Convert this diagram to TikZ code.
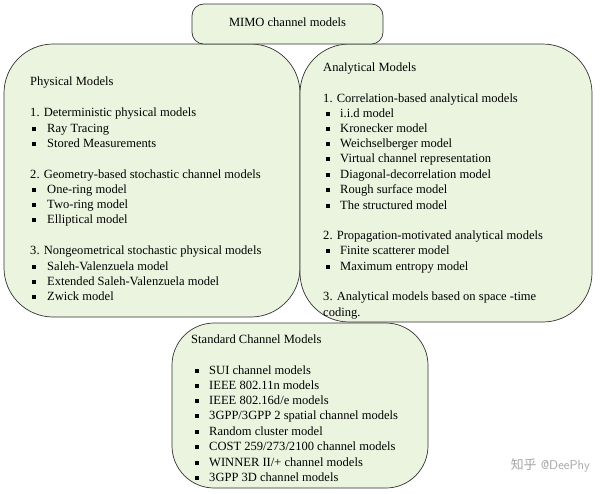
\documentclass[tikz,border=0pt]{standalone}
\usepackage{fontspec}
\setmainfont{Liberation Serif}
\newfontfamily\cjkfont{Noto Sans CJK SC}
\begin{document}
\begin{tikzpicture}[x=0.03cm,y=-0.03cm,
  txt/.style={anchor=base west,inner sep=0pt,font=\fontsize{10.7}{12}\selectfont},
]
\useasboundingbox (0,0) rectangle (600,493);
\fill[white] (0,0) rectangle (600,493);
\definecolor{bx}{HTML}{EAF4DF}
\tikzset{box/.style={draw=black!80,line width=0.6pt,fill=bx}}
% boxes
\draw[box,rounded corners=42] (4,44) rectangle (300,317);
\draw[box,rounded corners=42] (300,44) rectangle (592,322);
\draw[box,rounded corners=10] (192,4) rectangle (383,44);
\draw[box,rounded corners=36] (172,323) rectangle (428,488);
\node[txt,anchor=base] (top) at (287.5,26) {MIMO channel models};
% left
\node[txt] (l0) at (30,85) {Physical Models};
\foreach \y/\t [count=\i] in {112/{1. Deterministic physical models},174/{2. Geometry-based stochastic channel models},250/{3. Nongeometrical stochastic physical models}}
  \node[txt] (lh\i) at (30,\y+4) {\t};
\foreach \y/\t [count=\i] in {128/Ray Tracing,143/Stored Measurements,189/One-ring model,204/Two-ring model,219/Elliptical model,266/Saleh-Valenzuela model,281/Extended Saleh-Valenzuela model,296/Zwick model}{
  \node[txt] (li\i) at (47,\y+4) {\t};
  \fill (32,\y-1.2) rectangle ++(3.8,3.8);}
% right
\node[txt] (r0) at (323,71) {Analytical Models};
\foreach \y/\t [count=\i] in {98/{1. Correlation-based analytical models},235/{2. Propagation-motivated analytical models},296/{3. Analytical models based on space -time}}
  \node[txt] (rh\i) at (323,\y+4) {\t};
\node[txt] (rc) at (323,316) {coding.};
\foreach \y/\t [count=\i] in {113/i.i.d model,128/Kronecker model,143/Weichselberger model,158/Virtual channel representation,174/Diagonal-decorrelation model,189/Rough surface model,205/The structured model,250/Finite scatterer model,266/Maximum entropy model}{
  \node[txt] (ri\i) at (340,\y+4) {\t};
  \fill (326,\y-1.2) rectangle ++(3.8,3.8);}
% bottom
\node[txt] (b0) at (191,343) {Standard Channel Models};
\foreach \y/\t [count=\i] in {370/{SUI channel models},385/{IEEE 802.11n models},400/{IEEE 802.16d/e models},415/{3GPP/3GPP 2 spatial channel models},431/{Random cluster model},446/{COST 259/273/2100 channel models},462/{WINNER II/+ channel models},477/{3GPP 3D channel models}}{
  \node[txt] (bi\i) at (209,\y+4) {\t};
  \fill (195,\y-1.2) rectangle ++(3.8,3.8);}
\node[anchor=east,inner sep=0pt,text=black!35,font=\fontsize{11}{12}\sffamily] (wm) at (590,465) {{\cjkfont 知乎} @DeePhy};
\end{tikzpicture}
\end{document}
